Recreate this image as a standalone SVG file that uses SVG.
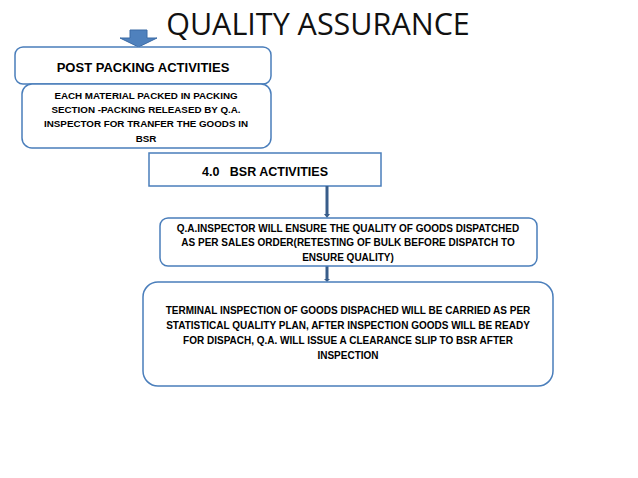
<svg xmlns="http://www.w3.org/2000/svg" width="638" height="478" viewBox="0 0 638 478">
<style>
.b{fill:#fff;stroke:#4a7ebb;stroke-width:1.5}
.t{font-family:"Liberation Sans",Arial,sans-serif;font-weight:bold;fill:#000;text-anchor:middle}
.c{stroke:#385d8a;stroke-width:3;fill:none}
</style>
<rect width="638" height="478" fill="#fff"/>
<text x="318" y="35" font-family="'Open Sans','Liberation Sans',sans-serif" font-size="30.5" text-anchor="middle" fill="#111">QUALITY ASSURANCE</text>
<polygon points="130,30 147,30 147,38 157,38 138.5,47 120,38 130,38" fill="#4f81bd" stroke="#3a6aa5"/>
<g id="post"><rect class="b" x="15" y="47" width="256" height="37" rx="8"/><text class="t" x="143" y="72" font-size="13">POST PACKING ACTIVITIES</text></g>
<g id="each"><rect class="b" x="22" y="84" width="249" height="64" rx="10"/>
<text class="t" font-size="9.8"><tspan x="146" y="99">EACH MATERIAL PACKED IN PACKING</tspan><tspan x="146" y="113">SECTION -PACKING RELEASED BY Q.A.</tspan><tspan x="146" y="127">INSPECTOR FOR TRANFER THE GOODS IN</tspan><tspan x="146" y="142">BSR</tspan></text></g>
<g id="bsr"><rect class="b" x="149" y="153" width="232" height="33"/><text class="t" x="265" y="176" font-size="12.5" xml:space="preserve">4.0   BSR ACTIVITIES</text></g>
<g id="connectors">
<line class="c" x1="327" y1="186" x2="327" y2="215"/><polygon points="324,214 330,214 327,218" fill="#385d8a"/>
<line class="c" x1="327" y1="266" x2="327" y2="280"/><polygon points="324,279 330,279 327,282" fill="#385d8a"/>
</g>
<g id="qa"><rect class="b" x="160" y="218" width="377" height="48" rx="8"/>
<text class="t" font-size="10"><tspan x="348" y="232">Q.A.INSPECTOR WILL ENSURE THE QUALITY OF GOODS  DISPATCHED</tspan><tspan x="348" y="246">AS PER SALES ORDER(RETESTING OF BULK BEFORE DISPATCH TO</tspan><tspan x="348" y="261">ENSURE QUALITY)</tspan></text></g>
<g id="term"><rect class="b" x="143" y="282" width="410" height="104" rx="15"/>
<text class="t" font-size="10"><tspan x="348" y="314">TERMINAL INSPECTION OF GOODS DISPACHED WILL BE CARRIED AS PER</tspan><tspan x="348" y="329">STATISTICAL QUALITY PLAN, AFTER INSPECTION  GOODS WILL BE READY</tspan><tspan x="348" y="344">FOR DISPACH, Q.A. WILL ISSUE A CLEARANCE SLIP TO BSR AFTER</tspan><tspan x="348" y="359">INSPECTION</tspan></text></g>
</svg>
